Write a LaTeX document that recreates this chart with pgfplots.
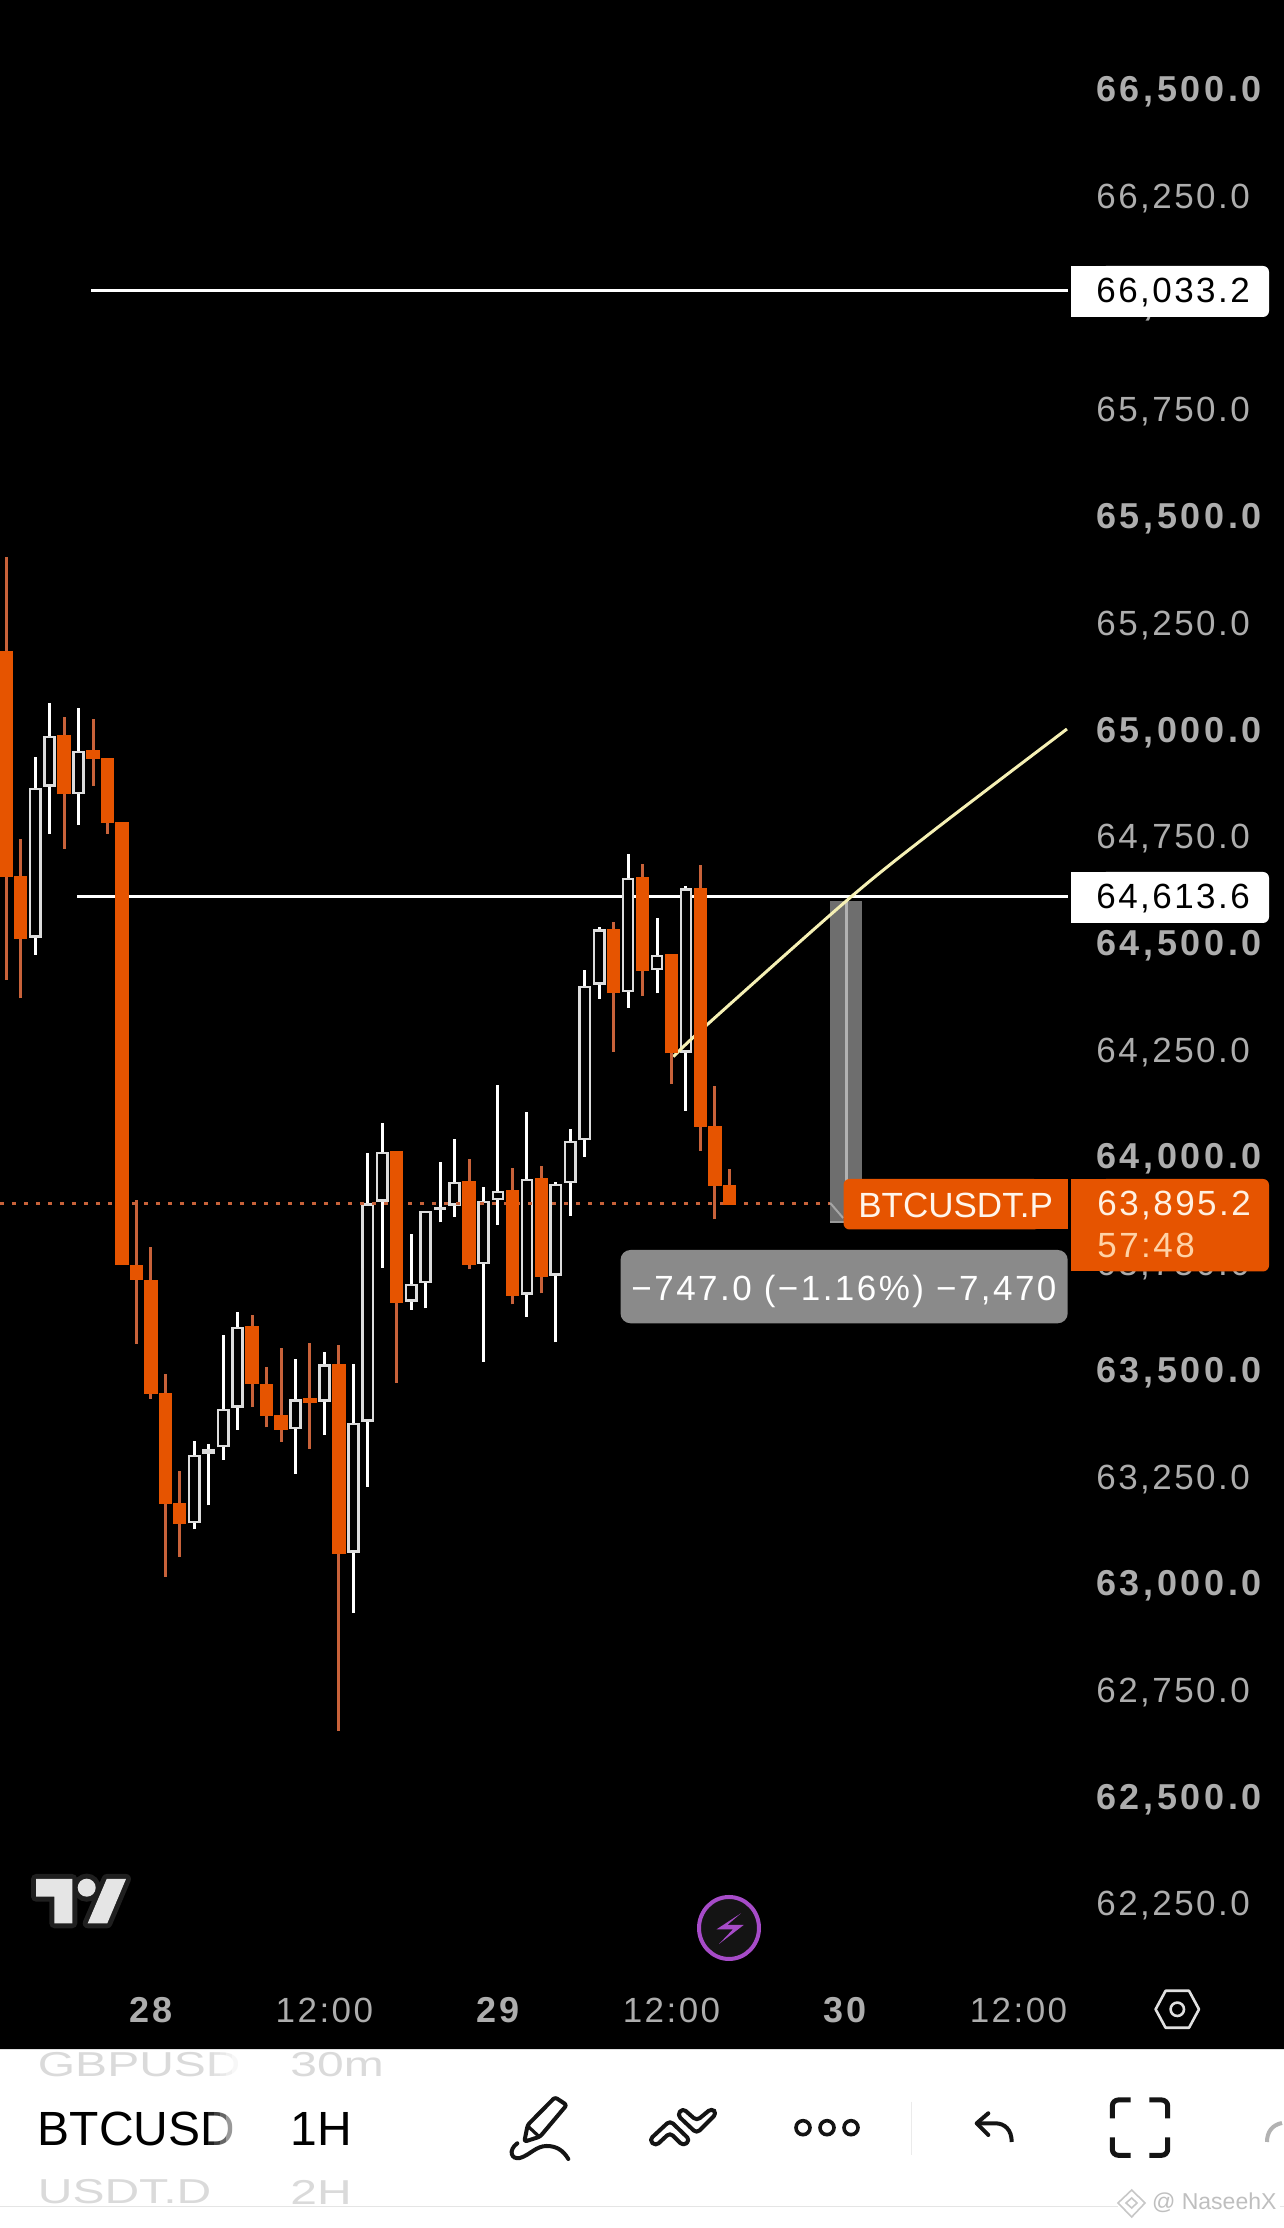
\documentclass[border=0pt]{standalone}
\usepackage{fontspec}
\setmainfont{Liberation Sans}
\newfontfamily\pr[LetterSpace=7]{Liberation Sans}
\newcommand\boldlab{\pr\bfseries\addfontfeatures{LetterSpace=10}\fontsize{18}{20}\selectfont}
\usepackage{pgfplots}
\usepackage{pgfplotstable}
\pgfplotsset{compat=1.18}

\definecolor{candleorange}{HTML}{E65400}
\definecolor{wickorange}{HTML}{C8623A}
\definecolor{hollow}{HTML}{DCDCDC}
\definecolor{ticktext}{HTML}{ADADAD}
\definecolor{trend}{HTML}{F5F0B4}
\definecolor{rangegrey}{HTML}{6E6E6E}
\definecolor{boxgrey}{HTML}{8A8A8A}
\definecolor{bolt}{HTML}{A64BC8}
\definecolor{ghost}{HTML}{DADADA}

% i, high, body top, body bottom, low
\pgfplotstableread{
i high top bot low
2 64941.6 64869.9 64517.6 64478.1
3 65067.1 64990.9 64871.7 64761.4
5 65055.4 64956.0 64854.6 64782.0
13 63339.7 63306.7 63146.4 63132.0
14 63332.0 63321.2 63309.6 63188.2
15 63587.3 63414.5 63324.1 63295.0
16 63641.0 63607.0 63417.4 63365.0
20 63531.0 63437.0 63367.0 63262.0
22 63547.5 63518.4 63431.0 63354.2
24 63519.3 63381.4 63077.4 62936.6
25 64013.7 63896.2 63384.4 63232.0
26 64084.6 64016.6 63900.0 63745.0
28 63824.3 63708.0 63665.0 63647.0
29 63878.8 63878.8 63708.5 63650.0
30 63992.0 63886.6 63880.3 63851.4
31 64045.9 63945.9 63890.5 63864.7
33 63933.4 63901.4 63753.8 63525.0
34 64172.4 63925.6 63903.8 63845.3
36 64109.3 63953.0 63681.3 63630.4
38 63946.7 63942.0 63726.5 63570.3
39 64069.3 64042.0 63943.6 63867.3
40 64442.5 64405.8 64044.3 64005.2
41 64542.5 64537.8 64408.2 64374.6
43 64714.3 64658.8 64391.0 64354.3
45 64563.6 64477.7 64442.5 64387.9
47 64639.3 64633.8 64248.9 64113.0
}\upcandles

\pgfplotstableread{
i high top bot low
0 65410.5 65189.9 64661.0 64418.9
1 64748.8 64662.8 64515.7 64375.9
4 65034.8 64992.7 64853.7 64726.4
6 65030.3 64957.7 64937.1 64874.4
7 64938.9 64938.9 64786.5 64761.4
8 64789.2 64789.2 63752.4 63752.4
9 63903.0 63752.4 63717.5 63567.0
10 63793.2 63717.5 63450.4 63438.7
11 63497.0 63451.4 63192.0 63021.0
12 63268.8 63194.0 63145.4 63067.7
17 63634.0 63609.0 63472.7 63419.3
18 63511.6 63473.7 63398.0 63371.0
19 63557.2 63400.0 63365.0 63337.0
21 63568.0 63439.0 63428.0 63321.0
23 63565.0 63519.3 63074.5 62660.0
27 64018.5 64018.5 63663.0 63476.0
32 63999.0 63947.5 63751.5 63741.3
35 63977.9 63927.3 63678.9 63659.3
37 63983.4 63954.5 63724.3 63685.3
42 64554.2 64538.6 64388.6 64251.2
44 64690.8 64661.2 64440.2 64382.5
46 64480.0 64480.0 64247.3 64175.5
48 64689.3 64634.6 64075.5 64019.3
49 64170.8 64077.1 63936.5 63858.5
50 63975.5 63938.1 63892.0 63892.0
}\downcandles

\pgfplotsset{
  seg/.style 2 args={draw=none, mark=none, forget plot,
    error bars/.cd, y dir=plus, y explicit, error mark=none,
    error bar style={line width=#1, color=#2, solid}},
}

\begin{document}
\begin{tikzpicture}
  \path[use as bounding box] (0,0) rectangle (642pt,1114pt);
  \begin{axis}[
    name=ax,
    at={(0,0)},
    anchor=south west,
    scale only axis,
    width=642pt,
    height=1114pt,
    xmin=-0.436, xmax=88.36,
    ymin=61495.6, ymax=66714.9,
    scaled ticks=false,
    axis background/.style={fill=black},
    axis line style={draw=none},
    major tick length=0pt,
    tick style={draw=none},
    ytick={62250,62500,62750,63000,63250,63500,63750,64000,64250,64500,64750,65000,65250,65500,65750,66000,66250,66500},
    yticklabels={
      {\pr 62,250.0},{\boldlab 62,500.0},{\pr 62,750.0},{\boldlab 63,000.0},
      {\pr 63,250.0},{\boldlab 63,500.0},{\pr 63,750.0},{\boldlab 64,000.0},
      {\pr 64,250.0},{\boldlab 64,500.0},{\pr 64,750.0},{\boldlab 65,000.0},
      {\pr 65,250.0},{\boldlab 65,500.0},{\pr 65,750.0},{\boldlab 66,000.0},
      {\pr 66,250.0},{\boldlab 66,500.0}},
    yticklabel pos=right,
    yticklabel style={anchor=west, xshift=-94pt, yshift=1.2pt, inner sep=0pt, text height=12.4pt, text depth=0pt,
      text=ticktext, font=\fontsize{17.5}{20}\selectfont},
    xtick={10,22,34,46,58,70},
    xticklabels={{\boldlab 28},{\pr 12:00},{\boldlab 29},{\pr 12:00},{\boldlab 30},{\pr 12:00}},
    xticklabel style={anchor=center, yshift=109pt, inner sep=0pt, text height=12.4pt, text depth=0pt,
      text=ticktext, font=\fontsize{17.5}{20}\selectfont},
  ]
  % horizontal levels sit behind the candles
  \addplot[white, line width=1.5pt, forget plot] coordinates {(5.86,66033.2) (73.42,66033.2)};
  \addplot[white, line width=1.5pt, forget plot] coordinates {(4.9,64613.6) (73.42,64613.6)};

  % rising candles
  \addplot[seg={1.5pt}{white}] table[x=i, y=low, y error plus expr=\thisrow{high}-\thisrow{low}] {\upcandles};
  \addplot[seg={6.35pt}{hollow}] table[x=i, y=bot, y error plus expr=\thisrow{top}-\thisrow{bot}] {\upcandles};
  \addplot[seg={3.8pt}{black}] table[x=i, y expr=\thisrow{bot}+5.8, y error plus expr={max(\thisrow{top}-\thisrow{bot}-11.6,0)}] {\upcandles};

  % last price
  \addplot[wickorange, line width=1.6pt, dash pattern=on 1.8pt off 4.2pt, forget plot] coordinates {(-0.436,63895.2) (56.97,63895.2)};

  % price range tool
  \addplot[fill=rangegrey, draw=none, forget plot] coordinates {(56.97,63853) (59.16,63853) (59.16,64605) (56.97,64605)} --cycle;
  \addplot[color=black!30, line width=1.3pt, forget plot] coordinates {(58.12,64605) (58.12,63853)};
  \addplot[color=black!40, line width=1pt, forget plot] coordinates {(56.97,63853) (59.16,63853)};
  \addplot[color=black!35, line width=1pt, forget plot] coordinates {(56.97,63897) (57.87,63861.6)};

  % path projection
  \addplot[trend, line width=1.5pt, smooth, forget plot] coordinates {(46.13,64239.5) (48.44,64313.7) (58.35,64611.9) (64.18,64770.5) (73.35,65007.1)};

  % falling candles
  \addplot[seg={1.5pt}{wickorange}] table[x=i, y=low, y error plus expr=\thisrow{high}-\thisrow{low}] {\downcandles};
  \addplot[seg={6.65pt}{candleorange}] table[x=i, y=bot, y error plus expr=\thisrow{top}-\thisrow{bot}] {\downcandles};
  \end{axis}

  % interface elements, in pixels of the screenshot
  \begin{scope}[shift={(ax.north west)}, x=0.5pt, y=-0.5pt]
    \tikzset{lab/.style={inner sep=0pt, text height=12.4pt, text depth=0pt, font=\fontsize{17.5}{20}\selectfont}}

    % white level tags
    \foreach \t/\yc/\txt in {266/290/{66,033.2}, 872/896/{64,613.6}}{
      \fill[white, rounded corners=3pt] (1100,\t) rectangle (1269,\t+51);
      \fill[white] (1071,\t) rectangle (1120,\t+51);
      \node[lab, anchor=west, text=black] at (1096,\yc) {\pr\txt};
    }

    % symbol and price tags
    \fill[candleorange, rounded corners=3pt] (843.5,1179) rectangle (1040,1229.5);
    \fill[candleorange] (1000,1179) rectangle (1067.7,1229.5);
    \node[lab, text=orange!8!white, anchor=center] at (955.6,1205) {BTCUSDT.P};
    \fill[candleorange, rounded corners=3pt] (1100,1179) rectangle (1269,1271.5);
    \fill[candleorange] (1071,1179) rectangle (1120,1271.5);
    \node[lab, anchor=west, text=orange!12!white] at (1097,1203) {\pr 63,895.2};
    \node[lab, anchor=west, text=orange!35!white] at (1097,1245) {\pr 57:48};

    % range box
    \fill[boxgrey, rounded corners=5pt] (620.5,1250) rectangle (1067.7,1323.3);
    \node[lab, anchor=center, text=white] at (844,1288) {\pr −747.0 (−1.16\%) −7,470};

    % logo
    \begin{scope}
      \def\logo{(36,1879) -- (72.3,1879) -- (72.3,1923.3) -- (54.3,1923.3) -- (54.3,1896.7) -- (36,1896.7) -- cycle
        (106.7,1879) -- (126,1879) -- (107.3,1923.3) -- (87.7,1923.3) -- cycle}
      \draw[black!88, line width=5pt, line join=round] \logo;
      \draw[black!88, line width=5pt] (86.7,1887.7) circle[radius=9];
      \fill[black!10] \logo;
      \fill[black!10] (86.7,1887.7) circle[radius=9];
    \end{scope}

    % bolt button
    \draw[bolt, line width=2pt, fill=black!92] (729,1928) ellipse[x radius=30, y radius=31];
    \fill[bolt] (741,1913.3) -- (716.6,1929.3) -- (733,1929.3) -- (719,1944) -- (743.7,1925) -- (727.3,1925) -- cycle;

    % settings
    \draw[black!12, line width=1.3pt, line join=round]
      (1165.6,1990.8) -- (1189,1990.8) -- (1199,2009.3) -- (1189,2027.8) -- (1165.6,2027.8) -- (1155.6,2009.3) -- cycle;
    \draw[black!12, line width=1.3pt] (1177.3,2009.3) circle[radius=6.7];

    % bottom toolbar
    \fill[white] (0,2049) rectangle (1284,2228);
    \draw[black!12, line width=0.5pt] (0,2049.5) -- (1284,2049.5);
    \draw[black!10, line width=0.6pt] (0,2206.5) -- (1284,2206.5);
    \tikzset{bar/.style={inner sep=0pt, anchor=west, font=\fontsize{24}{26}\selectfont}}
    \node[bar, text=ghost] at (37.5,2065) {\scalebox{1}[.72]{GBPUSD}};
    \node[bar, text=ghost] at (290,2065) {\scalebox{1}[.72]{30m}};
    \node[bar, text=black] at (37.5,2129) {BTCUSD};
    \node[bar, text=black] at (290,2129) {1H};
    \node[bar, text=ghost] at (37.5,2192) {\scalebox{1}[.72]{USDT.D}};
    \node[bar, text=ghost] at (290,2192) {\scalebox{1}[.72]{2H}};
    \foreach \x/\o in {208/.12,214/.25,220/.4,226/.6,232/.8,238/1}{
      \fill[white, opacity=\o] (\x,2050) rectangle (\x+6,2150);
    }

    % pen
    \draw[black!92, line width=2pt, line join=round, rounded corners=1.2pt]
      (524.3,2141.7) -- (527.7,2125) -- (555,2097.3) -- (566.7,2105) -- (540,2136.7) -- cycle;
    \draw[black!92, line width=1.6pt] (527.7,2126) -- (539.5,2137);
    \draw[black!92, line width=2pt, line cap=round]
      (517.3,2143.3) .. controls (508,2150) and (511,2160) .. (520,2158)
      .. controls (530,2155) and (536,2146) .. (546.7,2146) .. controls (556,2146) and (563,2150) .. (568.3,2159);
    % layouts
    \draw[black!92, line width=2pt, line join=round, rounded corners=2pt]
      (670,2120.7) -- (690,2140) -- (683.3,2146) -- (670,2132.7) -- (655.7,2146) -- (649.3,2140) -- cycle;
    \draw[black!92, line width=2pt, line join=round, rounded corners=2pt]
      (696.7,2120.7) -- (711.7,2108.3) -- (716.7,2113.3) -- (696.7,2133.3) -- (677.3,2115) -- (682.7,2108.3) -- cycle;
    % more
    \foreach \x in {803,827,851}{
      \draw[black!92, line width=1.8pt] (\x,2127.7) circle[radius=7];
    }
    \draw[black!8, line width=0.6pt] (911.5,2101.7) -- (911.5,2155);
    % undo
    \draw[black!92, line width=2pt, line cap=round, line join=round]
      (988.3,2113.3) -- (976.7,2123.3) -- (988.3,2135);
    \draw[black!92, line width=2pt]
      (976.7,2123.3) -- (995,2123.3) .. controls (1005,2123.3) and (1011.7,2130) .. (1011.7,2142);
    % fullscreen
    \draw[black!92, line width=2.5pt, rounded corners=3pt] (1130.7,2100) -- (1112.3,2100) -- (1112.3,2118.3);
    \draw[black!92, line width=2.5pt, rounded corners=3pt] (1149.3,2100) -- (1167.7,2100) -- (1167.7,2118.3);
    \draw[black!92, line width=2.5pt, rounded corners=3pt] (1130.7,2155.3) -- (1112.3,2155.3) -- (1112.3,2137.3);
    \draw[black!92, line width=2.5pt, rounded corners=3pt] (1149.3,2155.3) -- (1167.7,2155.3) -- (1167.7,2137.3);
    % next button, cut off by the edge
    \draw[black!30, line width=2pt] (1267,2142) .. controls (1267,2132) and (1272,2125) .. (1282,2123);

    % watermark
    \fill[white] (1118,2190) rectangle (1280,2216);
    \draw[black!22, line width=0.8pt] (1131.7,2190) -- (1145,2203) -- (1131.7,2217) -- (1118,2203) -- cycle;
    \draw[black!22, line width=0.8pt] (1131.7,2198) -- (1137,2203) -- (1131.7,2208) -- (1126,2203) -- cycle;
    \node[inner sep=0pt, anchor=west, text=black!25, font=\fontsize{11.5}{13}\selectfont] at (1151.7,2203) {@ NaseehX};
  \end{scope}
\end{tikzpicture}
\end{document}
